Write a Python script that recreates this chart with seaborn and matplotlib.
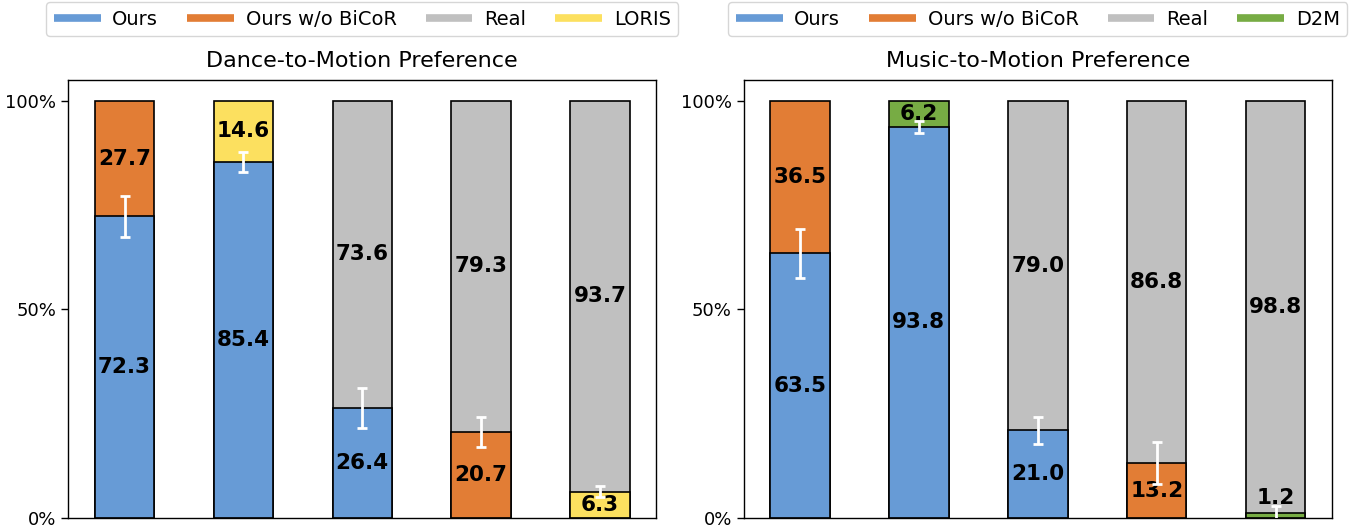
import numpy as np
import pandas as pd
import seaborn as sns
import matplotlib.pyplot as plt
from matplotlib.lines import Line2D

# left panel: Dance-to-Motion
dance_bottom_method = ["Ours", "Ours", "Ours", "Ours w/o BiCoR", "LORIS"]
dance_top_method = ["Ours w/o BiCoR", "LORIS", "Real", "Real", "Real"]
dance_bottom = [72.3, 85.4, 26.4, 20.7, 6.3]
dance_top = [27.7, 14.6, 73.6, 79.3, 93.7]
dance_err = [5.0, 2.4, 4.8, 3.6, 1.3]
dance_legend = ["Ours", "Ours w/o BiCoR", "Real", "LORIS"]

# right panel: Music-to-Motion
music_bottom_method = ["Ours", "Ours", "Ours", "Ours w/o BiCoR", "D2M"]
music_top_method = ["Ours w/o BiCoR", "D2M", "Real", "Real", "Real"]
music_bottom = [63.5, 93.8, 21.0, 13.2, 1.2]
music_top = [36.5, 6.2, 79.0, 86.8, 98.8]
music_err = [5.9, 1.4, 3.3, 5.0, 1.7]
music_legend = ["Ours", "Ours w/o BiCoR", "Real", "D2M"]

colors = {
    "Ours": "#679bd6",
    "Ours w/o BiCoR": "#e27d35",
    "Real": "#c0c0c0",
    "LORIS": "#fce05f",
    "D2M": "#77ac44",
}

sns.set_style("white", {"text.color": "black", "xtick.color": "black",
                        "ytick.color": "black", "axes.edgecolor": "black"})
plt.rcParams['font.family'] = ['DejaVu Sans']

fig, axes = plt.subplots(1, 2, figsize=(13.53, 5.27), dpi=100)
fig.subplots_adjust(left=0.0503, right=0.9845, top=0.848, bottom=0.017, wspace=0.148)


def draw_panel(ax, title, bot_m, top_m, bot, top, err, legend_names):
    pairs = [f"p{i}" for i in range(len(bot))]
    df = pd.DataFrame({
        "pair": pairs,
        "total": np.array(bot) + np.array(top),
        "bottom": bot,
        "top_m": top_m,
        "bot_m": bot_m,
    })
    sns.barplot(data=df, x="pair", y="total", hue="top_m", palette=colors,
                order=pairs, dodge=False, width=0.5, edgecolor="black",
                linewidth=1.2, saturation=1, legend=False, ax=ax)
    sns.barplot(data=df, x="pair", y="bottom", hue="bot_m", palette=colors,
                order=pairs, dodge=False, width=0.5, edgecolor="black",
                linewidth=1.2, saturation=1, legend=False, ax=ax)
    xs = np.arange(len(bot))
    for i in xs:
        yb = bot[i] / 2 if bot[i] >= 3 else bot[i] + 3.6
        ax.text(i, yb, f"{bot[i]:.1f}", ha="center", va="center", color="black",
                fontsize=15.5, fontweight="bold", zorder=5)
        ax.text(i, bot[i] + top[i] / 2, f"{top[i]:.1f}", ha="center", va="center",
                color="black", fontsize=15.5, fontweight="bold", zorder=5)
    ax.errorbar(xs, bot, yerr=err, fmt="none", ecolor="white", elinewidth=2,
                capsize=3.8, capthick=2, zorder=6)
    ax.set_ylim(0, 105)
    ax.set_yticks([0, 50, 100])
    ax.set_yticklabels(["0%", "50%", "100%"], fontsize=13)
    ax.tick_params(axis="y", left=True, length=5, width=1, colors="black")
    ax.set_xticks([])
    ax.set_xlabel("")
    ax.set_ylabel("")
    ax.set_title(title, fontsize=16, color="black", pad=9.5)
    for s in ax.spines.values():
        s.set_edgecolor("black")
        s.set_linewidth(1)
    handles = [Line2D([0], [0], color=colors[n], lw=5.5, solid_capstyle="butt")
               for n in legend_names]
    ax.legend(handles, legend_names, loc="lower center", bbox_to_anchor=(0.5, 1.10),
              ncol=4, fontsize=14, handlelength=2.4, handletextpad=0.6,
              columnspacing=1.5, frameon=True, borderaxespad=0)


draw_panel(axes[0], "Dance-to-Motion Preference", dance_bottom_method, dance_top_method,
           dance_bottom, dance_top, dance_err, dance_legend)
draw_panel(axes[1], "Music-to-Motion Preference", music_bottom_method, music_top_method,
           music_bottom, music_top, music_err, music_legend)

fig.savefig("out.png", dpi=100)
